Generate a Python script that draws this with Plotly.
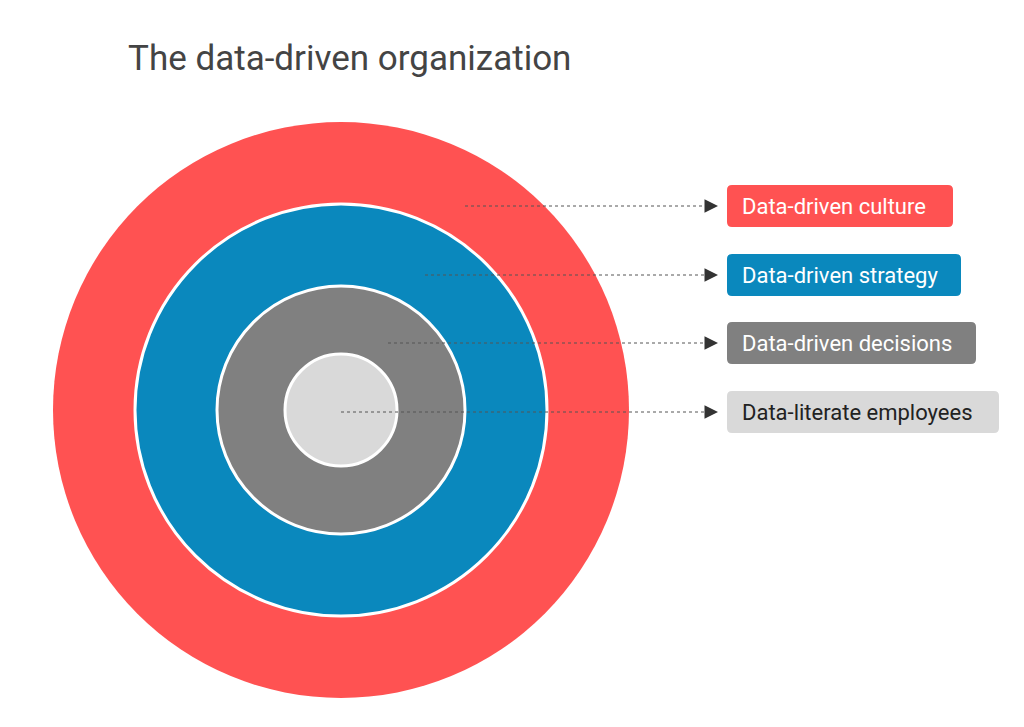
import plotly.graph_objects as go

layers = ["Data-driven culture", "Data-driven strategy", "Data-driven decisions", "Data-literate employees"]
radii = [288, 206, 124, 56]
colors = ["#FF5252", "#0A88BD", "#808080", "#D9D9D9"]
text_colors = ["white", "white", "white", "#222222"]
label_y = [206, 275, 343, 412]
pointer_x = [465, 425, 388, 341]
box_w = [226, 234, 249, 272]

OFF = 8  # page offset compensation
cx, cy = 341 - OFF, 410 - OFF
fig = go.Figure()
shapes = []
for r, c in zip(radii, colors):
    shapes.append(dict(type="circle", xref="x", yref="y", x0=cx - r, x1=cx + r, y0=cy - r, y1=cy + r,
                       fillcolor=c, line=dict(color="white", width=3 if r < 288 else 0)))

def rrect(x0, y0, x1, y1, rad=5):
    return (f"M{x0+rad},{y0} L{x1-rad},{y0} Q{x1},{y0} {x1},{y0+rad} L{x1},{y1-rad} Q{x1},{y1} {x1-rad},{y1} "
            f"L{x0+rad},{y1} Q{x0},{y1} {x0},{y1-rad} L{x0},{y0+rad} Q{x0},{y0} {x0+rad},{y0} Z")

ann = []
bx = 727 - OFF
for name, y, px, w, c, tc in zip(layers, label_y, pointer_x, box_w, colors, text_colors):
    y = y - OFF
    px = px - OFF
    shapes.append(dict(type="path", xref="x", yref="y", path=rrect(bx, y - 21, bx + w, y + 21),
                       fillcolor=c, line=dict(width=0)))
    shapes.append(dict(type="line", xref="x", yref="y", x0=px, x1=bx - 20, y0=y, y1=y,
                       line=dict(color="#555555", width=1, dash="dot")))
    ann.append(dict(x=bx - 9, y=y, ax=bx - 22, ay=y, axref="x", ayref="y", xref="x", yref="y", text="",
                    showarrow=True, arrowhead=2, arrowsize=1.8, arrowwidth=1.5, arrowcolor="#333333"))
    ann.append(dict(x=bx + 13, y=y, xref="x", yref="y", text=name, showarrow=False, xanchor="left",
                    font=dict(family="Roboto", size=22, color=tc)))

fig.update_layout(
    width=1024, height=727, margin=dict(l=0, r=0, t=0, b=0),
    plot_bgcolor="white", paper_bgcolor="white",
    xaxis=dict(range=[0, 1024], visible=False, fixedrange=True),
    yaxis=dict(range=[727, 0], visible=False, fixedrange=True),
    shapes=shapes, annotations=ann, showlegend=False,
    title=dict(text="The data-driven organization", x=(128 - OFF) / 1024, xanchor="left", y=1 - (58 - OFF) / 727,
               yanchor="middle", font=dict(family="Roboto", size=35, color="#444444")),
)
fig.write_html("out.html")
